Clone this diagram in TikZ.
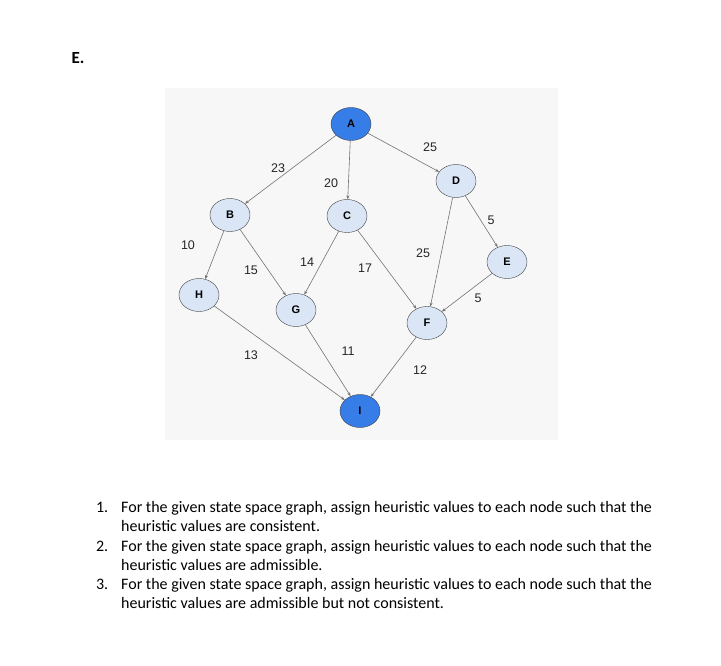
\documentclass[tikz,border=0pt]{standalone}
\usepackage{fontspec}
\setmainfont{Carlito}
\newfontfamily\lab{Liberation Sans}
\usetikzlibrary{arrows.meta,shapes.geometric}
\definecolor{dk}{RGB}{55,125,232}
\definecolor{lt}{RGB}{218,230,246}
\definecolor{bg}{RGB}{247,247,247}
\begin{document}
\begin{tikzpicture}[x=1pt,y=-1pt,
  nd/.style={ellipse,draw=black!75,fill=lt,minimum width=40pt,minimum height=33pt,inner sep=0pt,font=\lab\fontsize{11}{12}\selectfont\bfseries},
  dn/.style={nd,fill=dk},
  ed/.style={draw=black!55,line width=0.6pt,-{Stealth[length=4pt,width=3pt]}},
  wt/.style={font=\lab\fontsize{12.5}{13}\selectfont,text=black!85},
  itm/.style={anchor=north west,text width=560pt,font=\fontsize{16}{19.5}\selectfont,align=flush left,inner sep=0pt}]
\useasboundingbox (0,0) rectangle (721,666);
\fill[bg] (165,88) rectangle (558,440);
\node[anchor=west,font=\fontsize{17}{18}\selectfont\bfseries] (t) at (68,58) {E.};
\node[dn] (A) at (351,124) {A};
\node[nd] (B) at (230,215) {B};
\node[nd] (C) at (347,216) {C};
\node[nd] (D) at (456,181) {D};
\node[nd] (E) at (507,262) {E};
\node[nd] (H) at (199,295) {H};
\node[nd] (G) at (296,310) {G};
\node[nd] (F) at (427,323) {F};
\node[dn] (I) at (360,411) {I};
\draw[ed] (A)--(B); \draw[ed] (A)--(C); \draw[ed] (A)--(D);
\draw[ed] (B)--(H); \draw[ed] (B)--(G); \draw[ed] (C)--(G);
\draw[ed] (C)--(F); \draw[ed] (D)--(F); \draw[ed] (D)--(E);
\draw[ed] (E)--(F); \draw[ed] (H)--(I); \draw[ed] (G)--(I); \draw[ed] (F)--(I);
\node[wt] (w1) at (278,168) {23};
\node[wt] (w2) at (331,183) {20};
\node[wt] (w3) at (430,147) {25};
\node[wt] (w4) at (491,220) {5};
\node[wt] (w5) at (188,245) {10};
\node[wt] (w6) at (251,270) {15};
\node[wt] (w7) at (307,262) {14};
\node[wt] (w8) at (365,268) {17};
\node[wt] (w9) at (423,253) {25};
\node[wt] (w10) at (478,298) {5};
\node[wt] (w11) at (251,355) {13};
\node[wt] (w12) at (348,351) {11};
\node[wt] (w13) at (420,370) {12};
\node[itm] (q1) at (121,501) {\llap{1.\hspace{13pt}}For the given state space graph, assign heuristic values to each node such that the heuristic values are consistent.};
\node[itm] (q2) at (121,540) {\llap{2.\hspace{13pt}}For the given state space graph, assign heuristic values to each node such that the heuristic values are admissible.};
\node[itm] (q3) at (121,578) {\llap{3.\hspace{13pt}}For the given state space graph, assign heuristic values to each node such that the heuristic values are admissible but not consistent.};
\end{tikzpicture}
\end{document}
